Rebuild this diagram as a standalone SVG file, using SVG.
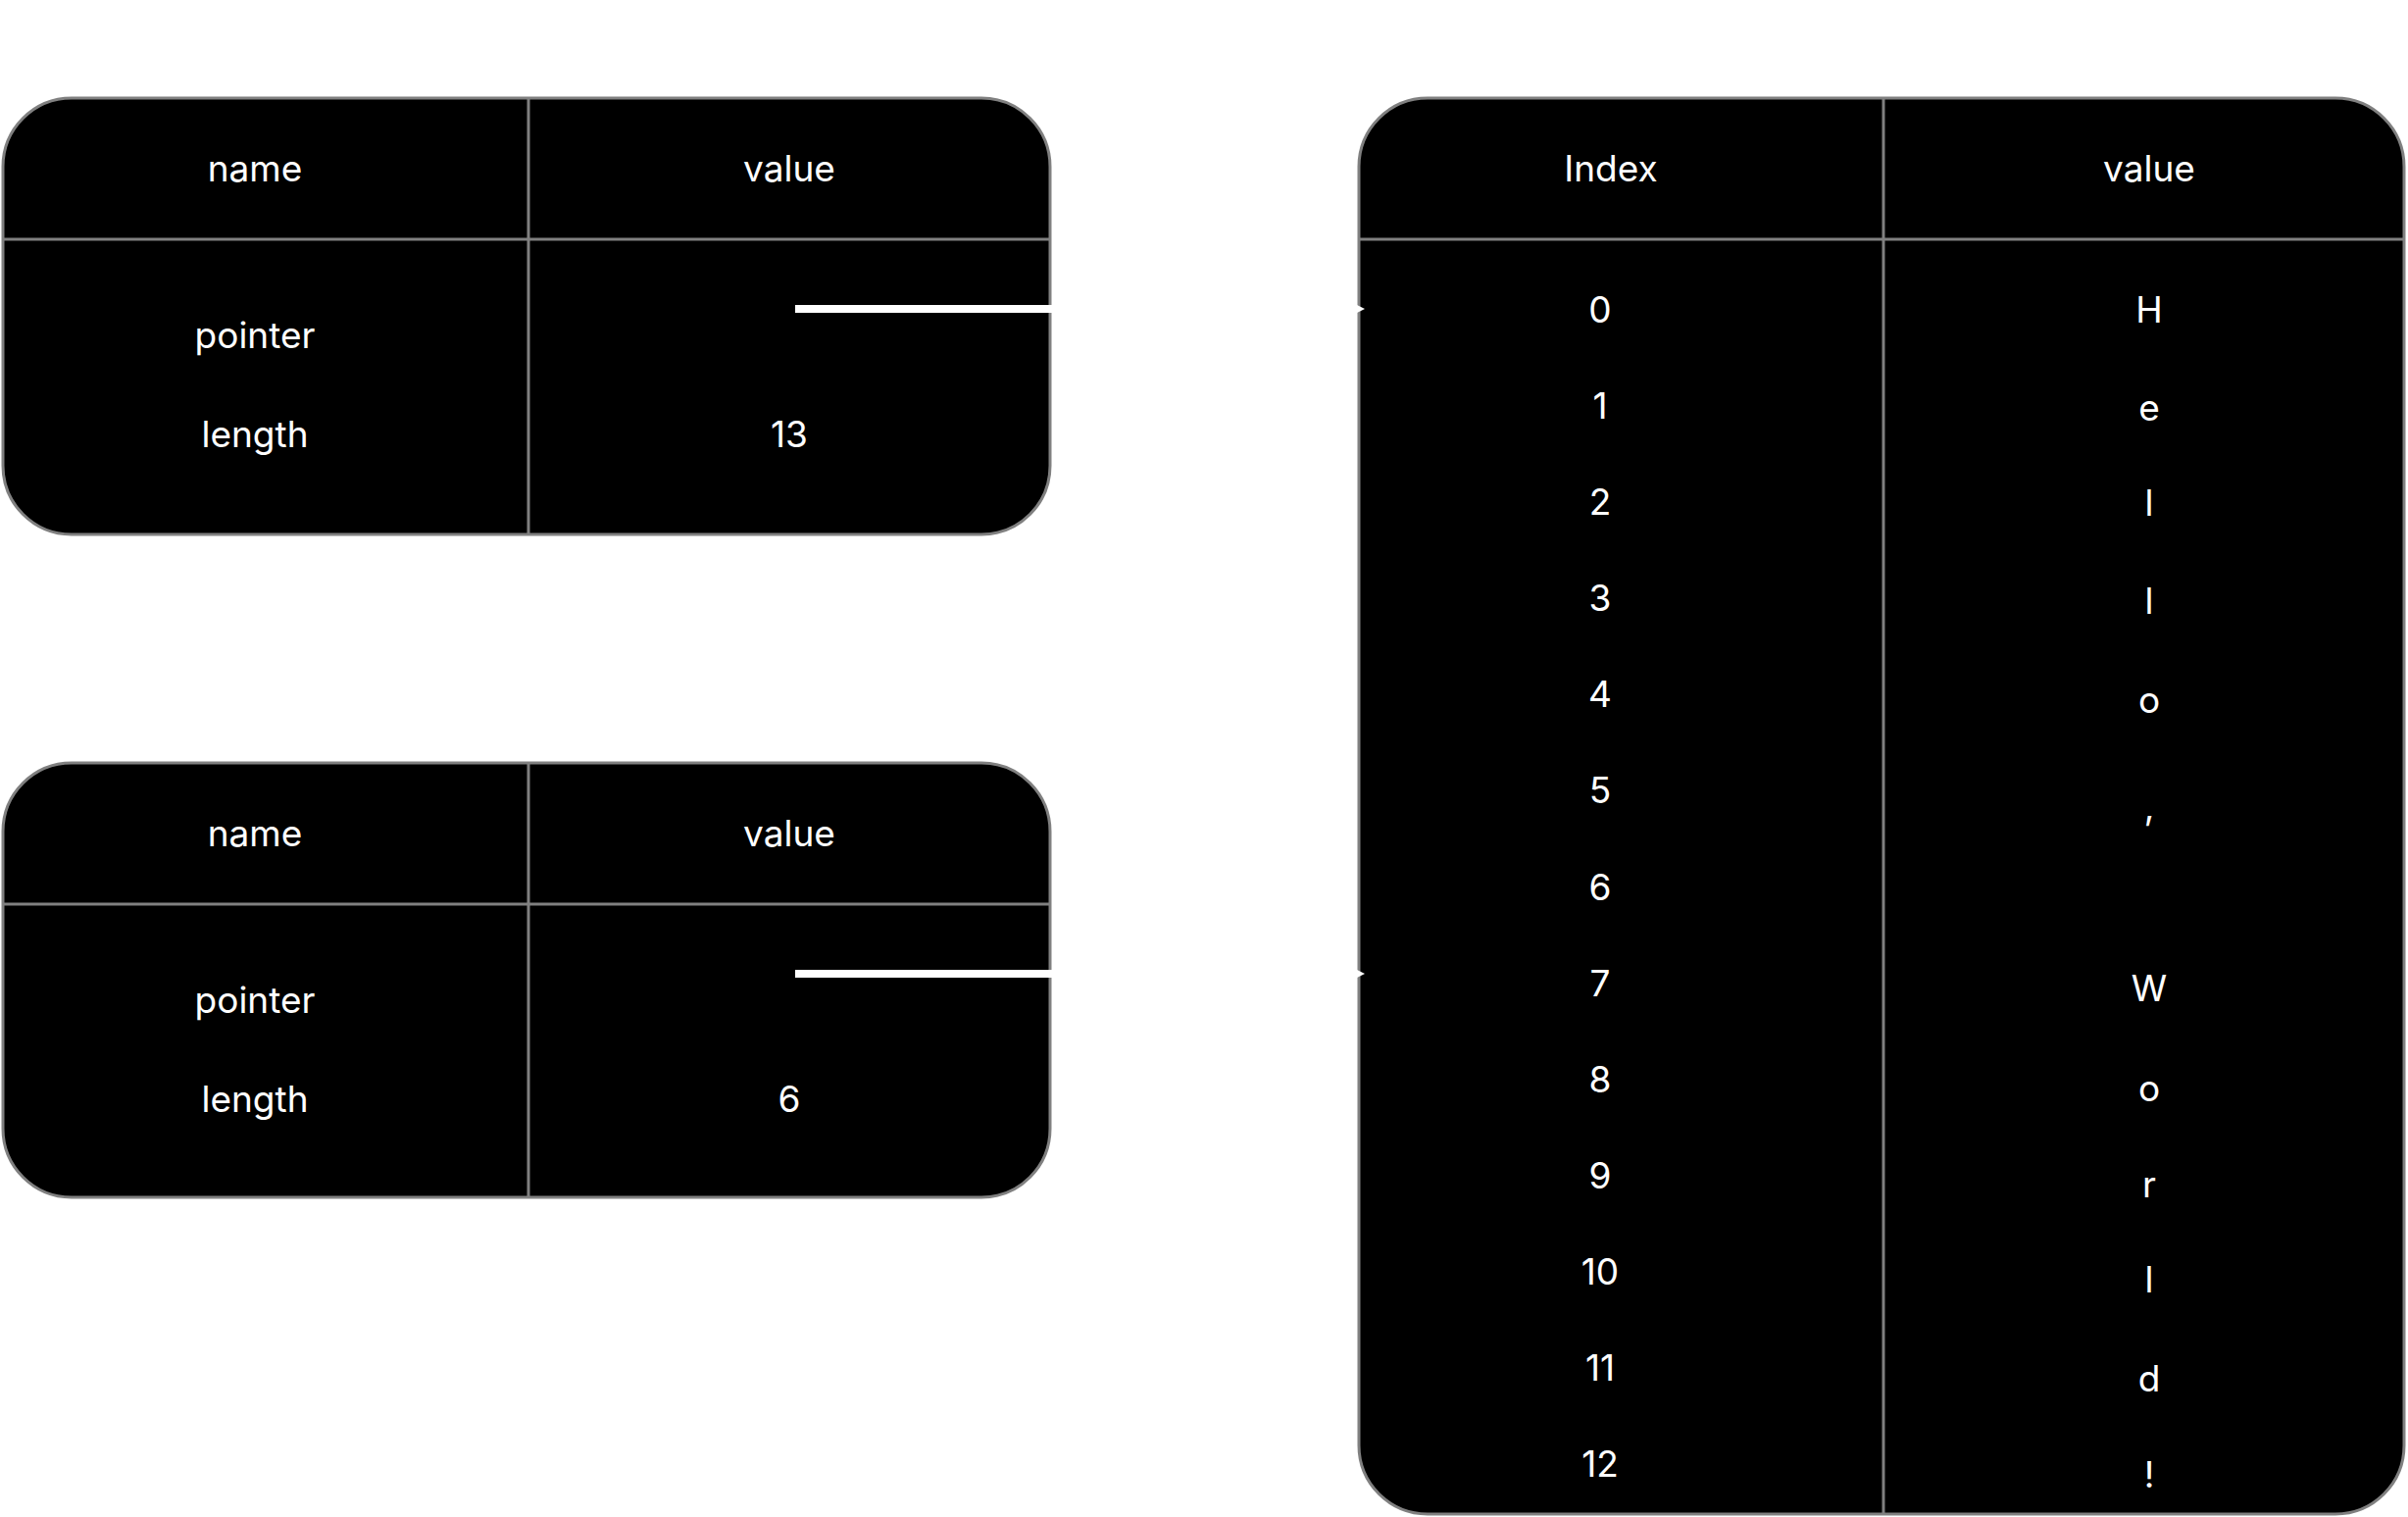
<svg xmlns="http://www.w3.org/2000/svg" width="2456" height="1547" viewBox="0 0 2456 1547">
<style>
.box{fill:#000;stroke:#808080;stroke-width:3}
.ln{stroke:#808080;stroke-width:3}
.t{fill:#fff;font-family:Inter,"Liberation Sans",sans-serif;font-size:37px;text-anchor:middle;dominant-baseline:central}
.code{fill:#fff;font-family:"Liberation Mono",monospace;font-size:37px}
.conn{stroke:#fff;stroke-width:8;fill:none}
</style>
<defs><marker id="ah" markerWidth="6" markerHeight="6" refX="5" refY="3" orient="auto"><path d="M0,0 L6,3 L0,6 z" fill="#fff"/></marker></defs>
<text class="code" x="215" y="45">let hello = &amp;my_string[0..5];</text>
<text class="code" x="204" y="751">let world = &amp;my_string[7..12];</text>
<g id="hello">
<rect class="box" x="3" y="100" width="1068" height="445" rx="70"/>
<line class="ln" x1="3" y1="244" x2="1071" y2="244"/>
<line class="ln" x1="539" y1="100" x2="539" y2="545"/>
<text class="t" x="260" y="171">name</text><text class="t" x="805" y="171">value</text>
<text class="t" x="260" y="341">pointer</text><text class="t" x="260" y="442">length</text>
<text class="t" x="805" y="442">13</text>
</g>
<g id="world">
<rect class="box" x="3" y="778" width="1068" height="443" rx="70"/>
<line class="ln" x1="3" y1="922" x2="1071" y2="922"/>
<line class="ln" x1="539" y1="778" x2="539" y2="1221"/>
<text class="t" x="260" y="849">name</text><text class="t" x="805" y="849">value</text>
<text class="t" x="260" y="1019">pointer</text><text class="t" x="260" y="1120">length</text>
<text class="t" x="805" y="1120">6</text>
</g>
<g id="my_string">
<rect class="box" x="1386" y="100" width="1066" height="1444" rx="70"/>
<line class="ln" x1="1386" y1="244" x2="2452" y2="244"/>
<line class="ln" x1="1921" y1="100" x2="1921" y2="1544"/>
<text class="t" x="1643" y="171">Index</text><text class="t" x="2192" y="171">value</text>
<text class="t" x="1632" y="315">0</text><text class="t" x="1632" y="413">1</text><text class="t" x="1632" y="511">2</text><text class="t" x="1632" y="609">3</text><text class="t" x="1632" y="707">4</text><text class="t" x="1632" y="805">5</text><text class="t" x="1632" y="904">6</text><text class="t" x="1632" y="1002">7</text><text class="t" x="1632" y="1100">8</text><text class="t" x="1632" y="1198">9</text><text class="t" x="1632" y="1296">10</text><text class="t" x="1632" y="1394">11</text><text class="t" x="1632" y="1492">12</text>
<text class="t" x="2192" y="315">H</text><text class="t" x="2192" y="415">e</text><text class="t" x="2192" y="512">l</text><text class="t" x="2192" y="612">l</text><text class="t" x="2192" y="713">o</text><text class="t" x="2192" y="822">,</text><text class="t" x="2192" y="1007">W</text><text class="t" x="2192" y="1109">o</text><text class="t" x="2192" y="1207">r</text><text class="t" x="2192" y="1304">l</text><text class="t" x="2192" y="1405">d</text><text class="t" x="2192" y="1503">!</text>
</g>
<g id="connectors">
<line class="conn" x1="811" y1="315" x2="1384" y2="315" marker-end="url(#ah)"/>
<line class="conn" x1="811" y1="993" x2="1384" y2="993" marker-end="url(#ah)"/>
</g>
</svg>
